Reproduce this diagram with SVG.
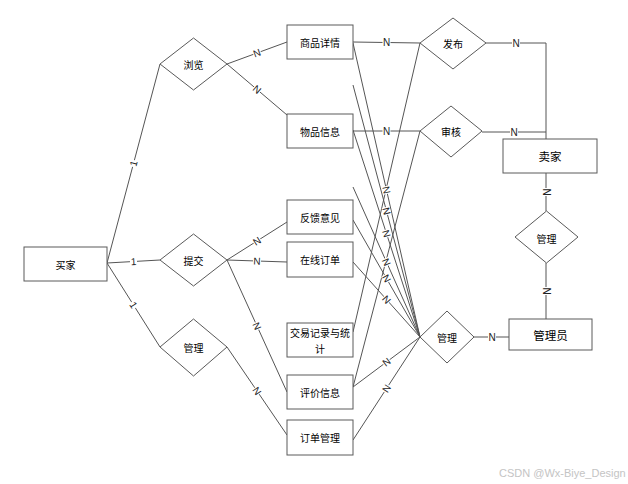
<svg xmlns="http://www.w3.org/2000/svg" width="628" height="484" viewBox="0 0 628 484">
<style>
.bx{fill:#fff;stroke:#5a5a5a;stroke-width:1}
.dm{fill:#fff;stroke:#5a5a5a;stroke-width:1}
.t{font-family:"Noto Sans CJK SC","Liberation Sans",sans-serif;font-size:10px;fill:#000;text-anchor:middle;dominant-baseline:central}
.tb{font-size:11.5px}
.ln{fill:none;stroke:#555;stroke-width:1}
.lb rect{fill:#fff}
.lb text{font-family:"Liberation Sans",sans-serif;font-size:10px;fill:#222;text-anchor:middle}
.wm{font-family:"Liberation Sans",sans-serif;font-size:11px;fill:#c4c4c4}
</style>
<rect width="628" height="484" fill="#fff"/>
<g id="connectors">
<path class="ln" d="M107 263L160 64M107 263L160 260M107 263L160 347"/>
<path class="ln" d="M227 64L287 42M227 64L287 115M227 260L287 222M227 260L287 262M227 260L287 392M227 347L287 435"/>
<path class="ln" d="M353 42L420 43M353 131L420 131M486 43H546V139M482 132H546M546 173V211M546 263V319M474 337H509"/>
<path class="ln" d="M353 43L420 337M353 85L420 337M353 130L420 337M353 187L420 337M353 220L420 337M353 262L420 337M353 387L420 337M353 440L420 337"/>
<path class="ln" d="M353 332L420 43M353 387L420 131"/>
<g class="lb" transform="translate(133.5,163.5) rotate(-75.1)"><rect x="-3.5" y="-5" width="7" height="10"/><text y="3.5">1</text></g>
<g class="lb" transform="translate(133.5,261.5) rotate(-3.2)"><rect x="-3.5" y="-5" width="7" height="10"/><text y="3.5">1</text></g>
<g class="lb" transform="translate(133.5,305) rotate(57.8)"><rect x="-3.5" y="-5" width="7" height="10"/><text y="3.5">1</text></g>
<g class="lb" transform="translate(257,53) rotate(-20.1)"><rect x="-4" y="-5" width="8" height="10"/><text y="3.5">N</text></g>
<g class="lb" transform="translate(257,89.5) rotate(40.4)"><rect x="-4" y="-5" width="8" height="10"/><text y="3.5">N</text></g>
<g class="lb" transform="translate(257,241) rotate(-32.3)"><rect x="-4" y="-5" width="8" height="10"/><text y="3.5">N</text></g>
<g class="lb" transform="translate(257,261) rotate(1.9)"><rect x="-4" y="-5" width="8" height="10"/><text y="3.5">N</text></g>
<g class="lb" transform="translate(257,326) rotate(65.6)"><rect x="-4" y="-5" width="8" height="10"/><text y="3.5">N</text></g>
<g class="lb" transform="translate(257,391) rotate(55.7)"><rect x="-4" y="-5" width="8" height="10"/><text y="3.5">N</text></g>
<g class="lb" transform="translate(386.5,42.5)"><rect x="-4" y="-5" width="8" height="10"/><text y="3.5">N</text></g>
<g class="lb" transform="translate(386.5,131)"><rect x="-4" y="-5" width="8" height="10"/><text y="3.5">N</text></g>
<g class="lb" transform="translate(516,43)"><rect x="-4" y="-5" width="8" height="10"/><text y="3.5">N</text></g>
<g class="lb" transform="translate(514,132)"><rect x="-4" y="-5" width="8" height="10"/><text y="3.5">N</text></g>
<g class="lb" transform="translate(546,192) rotate(90)"><rect x="-4" y="-5" width="8" height="10"/><text y="3.5">N</text></g>
<g class="lb" transform="translate(546,291) rotate(90)"><rect x="-4" y="-5" width="8" height="10"/><text y="3.5">N</text></g>
<g class="lb" transform="translate(492,337)"><rect x="-4" y="-5" width="8" height="10"/><text y="3.5">N</text></g>
<g class="lb" transform="translate(386.5,190) rotate(77.2)"><rect x="-4" y="-4" width="8" height="8"/><text y="3.5">N</text></g>
<g class="lb" transform="translate(386.5,211) rotate(75.1)"><rect x="-4" y="-4" width="8" height="8"/><text y="3.5">N</text></g>
<g class="lb" transform="translate(386.5,233.5) rotate(72.1)"><rect x="-4" y="-4" width="8" height="8"/><text y="3.5">N</text></g>
<g class="lb" transform="translate(386.5,262) rotate(65.9)"><rect x="-4" y="-4" width="8" height="8"/><text y="3.5">N</text></g>
<g class="lb" transform="translate(386.5,278.5) rotate(60.2)"><rect x="-4" y="-4" width="8" height="8"/><text y="3.5">N</text></g>
<g class="lb" transform="translate(386.5,299.5) rotate(48.2)"><rect x="-4" y="-4" width="8" height="8"/><text y="3.5">N</text></g>
<g class="lb" transform="translate(386.5,362) rotate(-36.7)"><rect x="-4" y="-4" width="8" height="8"/><text y="3.5">N</text></g>
<g class="lb" transform="translate(386.5,388.5) rotate(-57)"><rect x="-4" y="-4" width="8" height="8"/><text y="3.5">N</text></g>
</g>
<g id="buyer"><rect class="bx" x="24" y="247" width="83" height="34"/><text class="t" x="65.5" y="264">买家</text></g>
<g id="browse"><polygon class="dm" points="160,64 193.5,38 227,64 193.5,90"/><text class="t" x="193.5" y="64">浏览</text></g>
<g id="submit"><polygon class="dm" points="160,260 193.5,234 227,260 193.5,286"/><text class="t" x="193.5" y="260">提交</text></g>
<g id="manage-buyer"><polygon class="dm" points="160,347 193.5,319 227,347 193.5,376"/><text class="t" x="193.5" y="347">管理</text></g>
<g id="goods-detail"><rect class="bx" x="287" y="25" width="66" height="34"/><text class="t" x="320" y="42">商品详情</text></g>
<g id="item-info"><rect class="bx" x="287" y="114" width="66" height="34"/><text class="t" x="320" y="131">物品信息</text></g>
<g id="feedback"><rect class="bx" x="287" y="200" width="66" height="34"/><text class="t" x="320" y="217">反馈意见</text></g>
<g id="online-order"><rect class="bx" x="287" y="242" width="66" height="35"/><text class="t" x="320" y="259.5">在线订单</text></g>
<g id="trade-record"><rect class="bx" x="287" y="323" width="66" height="34"/><text class="t" x="320" y="332">交易记录与统</text><text class="t" x="320" y="348">计</text></g>
<g id="review"><rect class="bx" x="287" y="375" width="66" height="34"/><text class="t" x="320" y="392">评价信息</text></g>
<g id="order-manage"><rect class="bx" x="287" y="420" width="66" height="35"/><text class="t" x="320" y="437.5">订单管理</text></g>
<g id="publish"><polygon class="dm" points="420,43 453,18 486,43 453,69"/><text class="t" x="453" y="43">发布</text></g>
<g id="audit"><polygon class="dm" points="420,131 451,106 482,131 451,157"/><text class="t" x="451" y="131">审核</text></g>
<g id="manage-mid"><polygon class="dm" points="420,337 447,311 474,337 447,363"/><text class="t" x="447" y="337">管理</text></g>
<g id="seller"><rect class="bx" x="503" y="139" width="94" height="34"/><text class="t tb" x="550" y="156">卖家</text></g>
<g id="manage-right"><polygon class="dm" points="515,237 546.5,211 578,237 546.5,263"/><text class="t" x="546.5" y="238">管理</text></g>
<g id="admin"><rect class="bx" x="509" y="319" width="83" height="31"/><text class="t tb" x="550.5" y="335">管理员</text></g>
<text class="wm" x="499" y="477">CSDN @Wx-Biye_Design</text>
</svg>
